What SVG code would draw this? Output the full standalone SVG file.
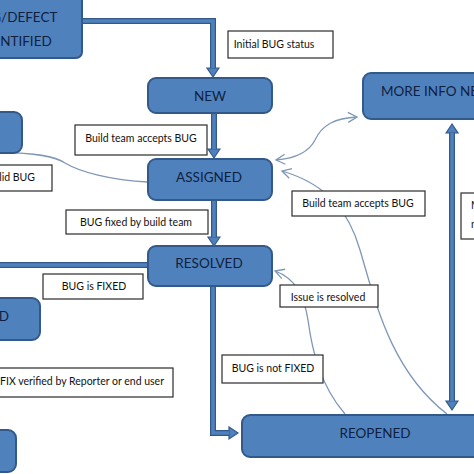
<svg xmlns="http://www.w3.org/2000/svg" width="474" height="474" viewBox="0 0 474 474">
  <style>
    .node rect { fill: #4f81bd; stroke: #33598a; stroke-width: 2; }
    .node text { font-family: Lato, "Liberation Sans", sans-serif; font-size: 13.5px; fill: #0f1f3d; text-anchor: middle; }
    .lbl rect { fill: #ffffff; stroke: #2b2b2b; stroke-width: 1.2; }
    .lbl text { font-family: Lato, "Liberation Sans", sans-serif; font-size: 10.5px; fill: #111111; text-anchor: middle; }
    .bar-o { fill: none; stroke: #33598a; stroke-width: 6; }
    .bar-i { fill: none; stroke: #4f81bd; stroke-width: 3.5; }
    .thin { fill: none; stroke: #7f97b8; stroke-width: 1.3; }
  </style>
  <defs>
    <marker id="head" markerUnits="userSpaceOnUse" viewBox="-1 -8 12 16" markerWidth="12" markerHeight="16" refX="0" refY="0" orient="auto-start-reverse">
      <polygon points="0,-6 9,0 0,6" fill="#4f81bd" stroke="#33598a" stroke-width="1.2"/>
    </marker>
    <marker id="open" markerUnits="userSpaceOnUse" viewBox="-12 -7 14 14" markerWidth="14" markerHeight="14" refX="0" refY="0" orient="auto-start-reverse">
      <path d="M-9,-5 L0,0 L-9,5" fill="none" stroke="#7f97b8" stroke-width="1.3"/>
    </marker>
  </defs>
  <rect width="474" height="474" fill="#ffffff"/>

  <g id="connectors">
    <path class="thin" d="M276,160 C300,158 310,150 315,140 C322,125 335,118 357,117" marker-start="url(#open)" marker-end="url(#open)"/>
    <path class="thin" d="M148,182 C110,180 80,172 65,163 C55,156 35,153 -2,152"/>
    <path class="thin" d="M447,414 C390,370 375,300 360,250 C350,215 330,185 282,171" marker-end="url(#open)"/>
    <path class="thin" d="M345,414 C320,385 312,350 308,320 C304,295 295,278 275,271" marker-end="url(#open)"/>

    <path class="bar-o" d="M82,21 H213 V68" marker-end="url(#head)"/>
    <path class="bar-i" d="M82,21 H213 V68"/>
    <path class="bar-o" d="M214,113 V149" marker-end="url(#head)"/>
    <path class="bar-i" d="M214,113 V149"/>
    <path class="bar-o" d="M214,200 V237" marker-end="url(#head)"/>
    <path class="bar-i" d="M214,200 V237"/>
    <path class="bar-o" d="M148,265 H-10"/>
    <path class="bar-i" d="M148,265 H-10"/>
    <path class="bar-o" d="M213,286 V433 H229" marker-end="url(#head)"/>
    <path class="bar-i" d="M213,286 V433 H229"/>
    <path class="bar-o" d="M452,401 V133" marker-start="url(#head)" marker-end="url(#head)"/>
    <path class="bar-i" d="M452,401 V133"/>
  </g>

  <g id="labels">
    <g id="lbl-initial" class="lbl"><rect x="228" y="31" width="105" height="27"/><text x="274" y="48">Initial BUG status</text></g>
    <g id="lbl-accepts1" class="lbl"><rect x="75" y="125" width="132" height="30"/><text x="141" y="142">Build team accepts BUG</text></g>
    <g id="lbl-invalid" class="lbl"><rect x="-40" y="165" width="92" height="26"/><text x="35" y="181" style="text-anchor:end">Invalid BUG</text></g>
    <g id="lbl-fixed-by" class="lbl"><rect x="66" y="210" width="142" height="24"/><text x="136" y="226">BUG fixed by build team</text></g>
    <g id="lbl-is-fixed" class="lbl"><rect x="43" y="274" width="100" height="25"/><text x="94" y="290">BUG is FIXED</text></g>
    <g id="lbl-verified" class="lbl"><rect x="-20" y="368" width="193" height="29"/><text x="0" y="385" style="text-anchor:start">FIX verified by Reporter or end user</text></g>
    <g id="lbl-not-fixed" class="lbl"><rect x="222" y="355" width="101" height="28"/><text x="273" y="372">BUG is not FIXED</text></g>
    <g id="lbl-resolved" class="lbl"><rect x="280" y="285" width="98" height="22"/><text x="328" y="301">Issue is resolved</text></g>
    <g id="lbl-accepts2" class="lbl"><rect x="292" y="191" width="133" height="25"/><text x="358" y="207">Build team accepts BUG</text></g>
    <g id="lbl-moreinfo" class="lbl"><rect x="461" y="193" width="80" height="46"/><text x="471" y="209" style="text-anchor:start">More info</text><text x="471" y="228" style="text-anchor:start">needed</text></g>
  </g>

  <g id="node-identified" class="node"><rect x="-52" y="-10" width="134" height="68" rx="6"/><text x="15" y="22">BUG/DEFECT</text><text x="15" y="46">IDENTIFIED</text></g>
  <g id="node-new" class="node"><rect x="148" y="78" width="124" height="35" rx="8"/><text x="210" y="101">NEW</text></g>
  <g id="node-rejected" class="node"><rect x="-60" y="112" width="82" height="41" rx="8"/></g>
  <g id="node-assigned" class="node"><rect x="148" y="159" width="124" height="41" rx="8"/><text x="209" y="182">ASSIGNED</text></g>
  <g id="node-resolved" class="node"><rect x="148" y="246" width="124" height="40" rx="8"/><text x="209" y="268">RESOLVED</text></g>
  <g id="node-verified" class="node"><rect x="-84" y="298" width="124" height="42" rx="8"/><text x="9" y="321" style="text-anchor:end">VERIFIED</text></g>
  <g id="node-closed" class="node"><rect x="-100" y="430" width="116" height="42" rx="8"/></g>
  <g id="node-moreinfo" class="node"><rect x="363" y="73" width="160" height="46" rx="8"/><text x="381" y="96" style="text-anchor:start">MORE INFO NEEDED</text></g>
  <g id="node-reopened" class="node"><rect x="242" y="415" width="266" height="42" rx="8"/><text x="375" y="438">REOPENED</text></g>
</svg>
